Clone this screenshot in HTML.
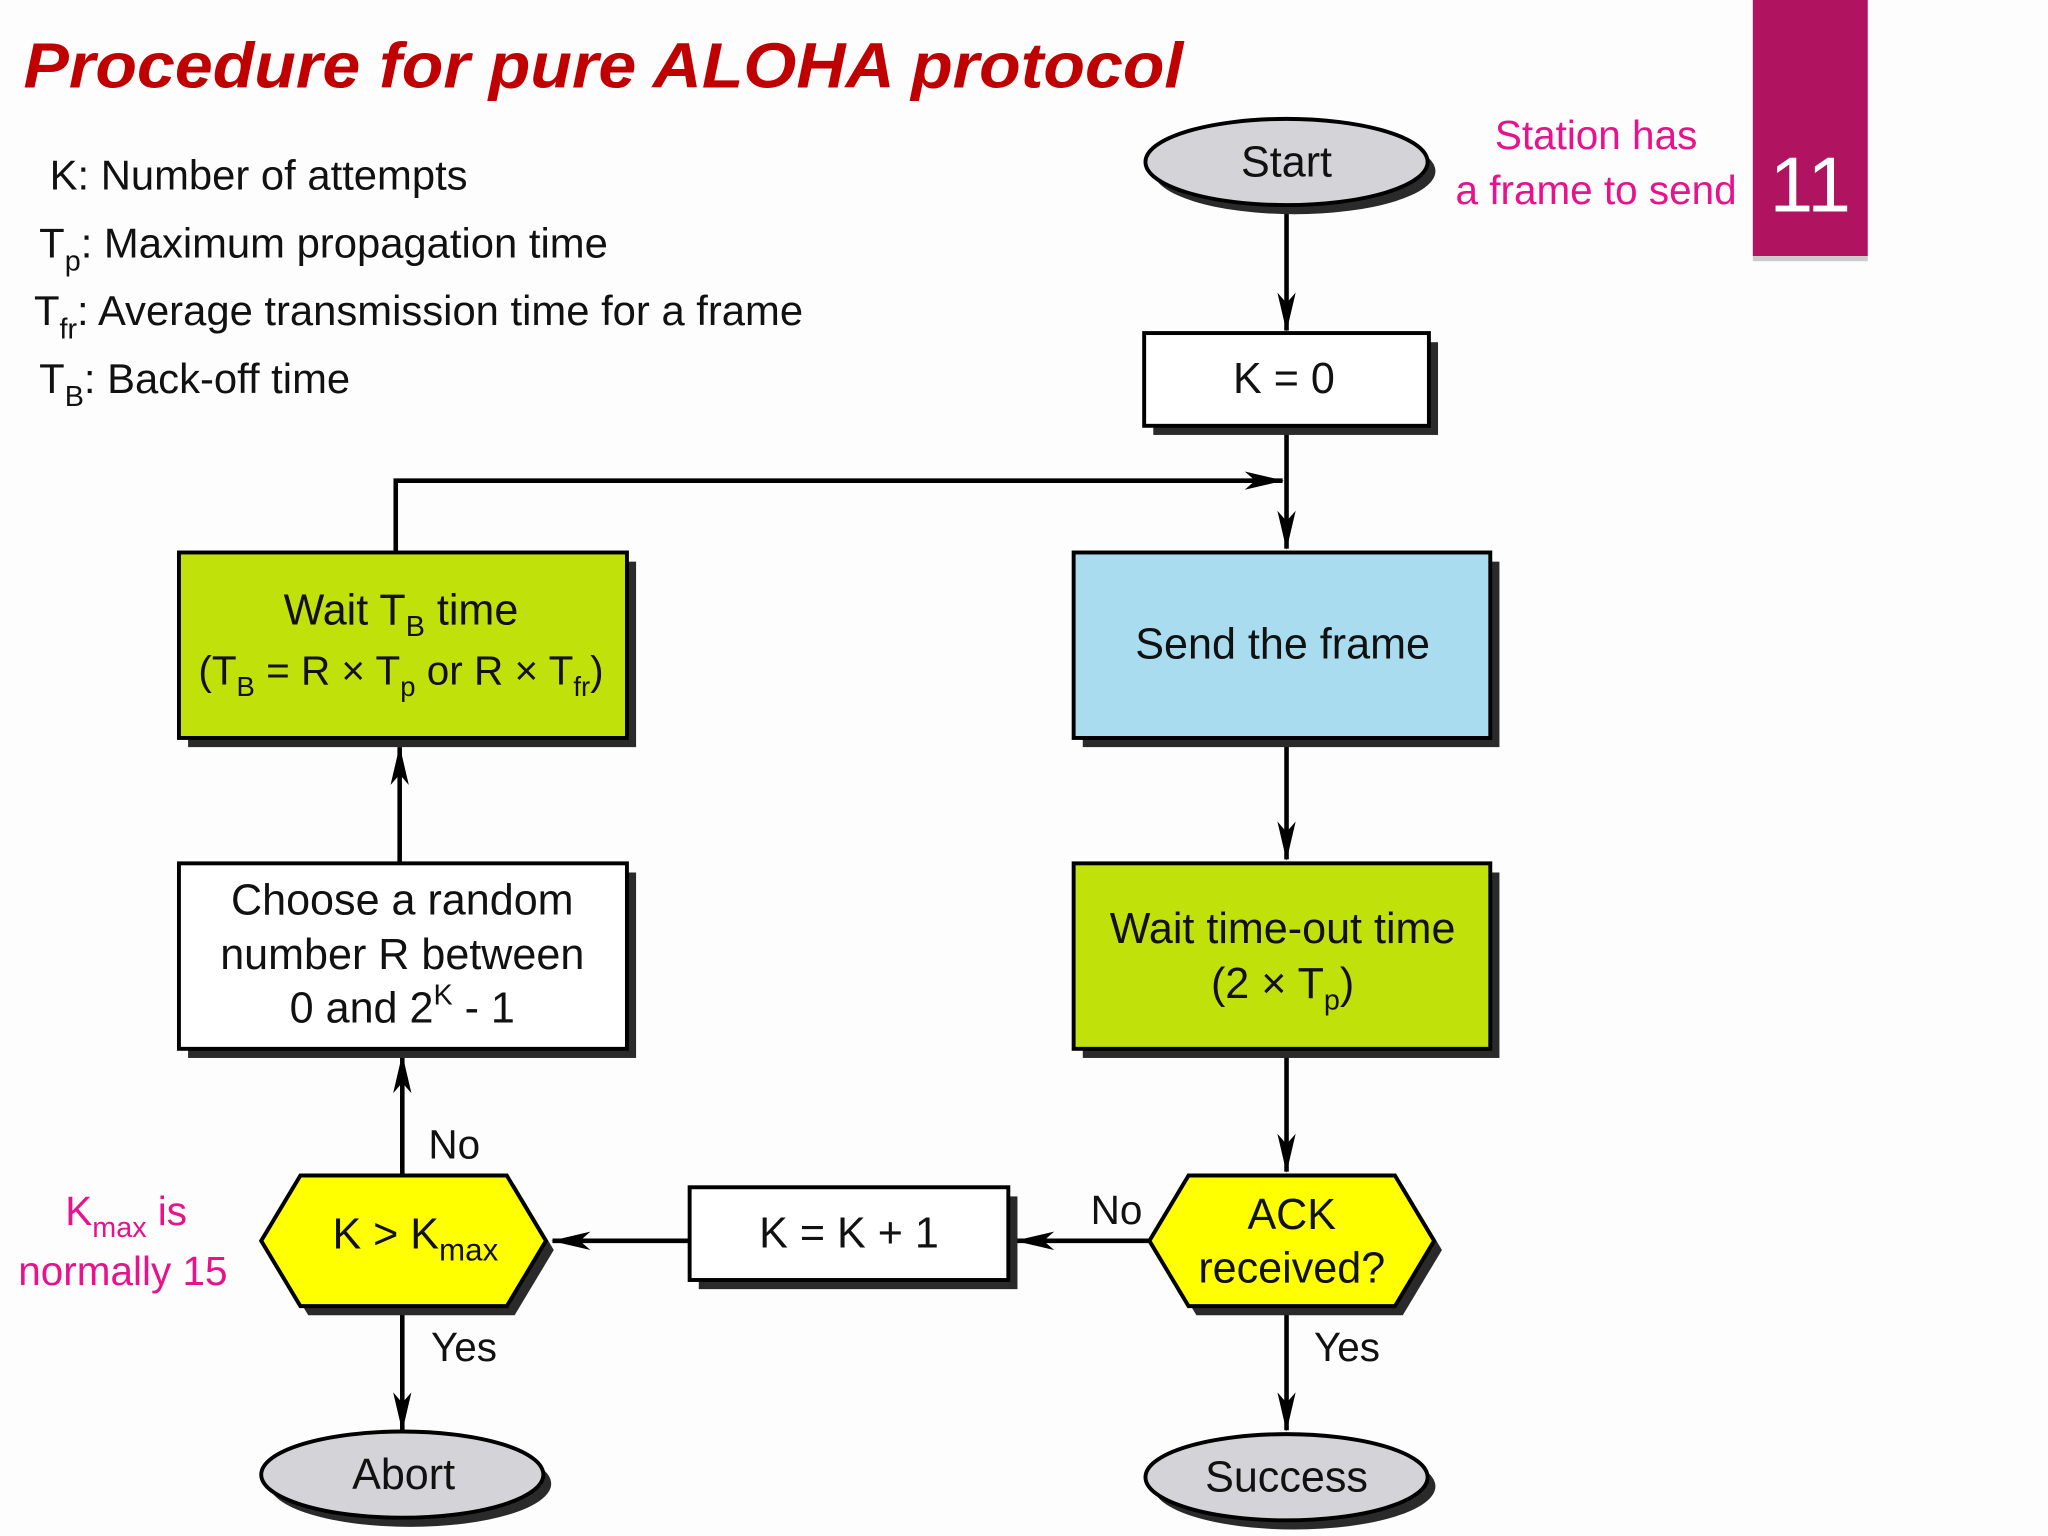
<!DOCTYPE html>
<html><head><meta charset="utf-8"><style>
html,body{margin:0;padding:0;background:#fff;}
svg{display:block;}
text{font-family:"Liberation Sans Narrow","Liberation Sans",sans-serif;}
</style></head><body>
<svg width="2048" height="1536" viewBox="0 0 1568 1176" preserveAspectRatio="none" xmlns="http://www.w3.org/2000/svg">
<defs>
<marker id="ah" viewBox="0 0 30 20" refX="29" refY="10" markerWidth="30" markerHeight="20" markerUnits="userSpaceOnUse" orient="auto">
<path d="M0,3 L30,10 L0,17 L8,10 Z" fill="#000"/>
</marker>
</defs>
<rect width="1568" height="1176" fill="#fdfdfd"/>
<text x="18" y="67" font-family="Liberation Sans" font-weight="bold" font-style="italic" font-size="49" fill="#c00000" textLength="888" lengthAdjust="spacingAndGlyphs" style="font-family:'Liberation Sans',sans-serif">Procedure for pure ALOHA protocol</text>

<g font-size="32" fill="#111">
<text x="38" y="145" textLength="320" lengthAdjust="spacingAndGlyphs">K: Number of attempts</text>
<text x="30" y="197">T<tspan font-size="22" dy="10">p</tspan><tspan dy="-10">: Maximum propagation time</tspan></text>
<text x="26" y="249">T<tspan font-size="22" dy="10">fr</tspan><tspan dy="-10">: Average transmission time for a frame</tspan></text>
<text x="30" y="301">T<tspan font-size="22" dy="10">B</tspan><tspan dy="-10">: Back-off time</tspan></text>
</g>

<rect x="1342" y="0" width="88" height="196" fill="#b0135f"/>
<rect x="1342" y="196" width="88" height="4" fill="#ccc"/>
<text x="1386" y="162" font-size="60" fill="#fff" text-anchor="middle" style="font-family:'Liberation Sans',sans-serif">11</text>
<g font-size="31" fill="#e8128c" text-anchor="middle">
<text x="1222" y="114">Station has</text>
<text x="1222" y="156">a frame to send</text>
</g>

<g stroke="#000" stroke-width="3.5" fill="none">
<line x1="985" y1="158" x2="985" y2="253" marker-end="url(#ah)"/>
<line x1="985" y1="330" x2="985" y2="420" marker-end="url(#ah)"/>
<polyline points="303,422 303,368 982,368" marker-end="url(#ah)"/>
<line x1="985" y1="568" x2="985" y2="658" marker-end="url(#ah)"/>
<line x1="985" y1="806" x2="985" y2="897" marker-end="url(#ah)"/>
<line x1="985" y1="1003" x2="985" y2="1095" marker-end="url(#ah)"/>
<line x1="880" y1="950" x2="778" y2="950" marker-end="url(#ah)"/>
<line x1="528" y1="950" x2="423" y2="950" marker-end="url(#ah)"/>
<line x1="308" y1="900" x2="308" y2="808" marker-end="url(#ah)"/>
<line x1="306" y1="661" x2="306" y2="572" marker-end="url(#ah)"/>
<line x1="308" y1="1003" x2="308" y2="1095" marker-end="url(#ah)"/>
</g>

<g fill="#2a2a2a">
<ellipse cx="991" cy="131" rx="108" ry="33"/>
<rect x="883" y="262" width="218" height="71"/>
<rect x="144" y="430" width="343" height="142"/>
<rect x="829" y="430" width="319" height="142"/>
<rect x="829" y="668" width="319" height="142"/>
<rect x="144" y="668" width="343" height="142"/>
<rect x="535" y="916" width="244" height="71"/>
<polygon points="886,957 916,907 1074,907 1104,957 1074,1007 916,1007"/>
<polygon points="206,957 236,907 394,907 424,957 394,1007 236,1007"/>
<ellipse cx="991" cy="1138" rx="108" ry="33"/>
<ellipse cx="314" cy="1136" rx="108" ry="33"/>
</g>

<g stroke="#000" stroke-width="3">
<ellipse cx="985" cy="124" rx="108" ry="33" fill="#d4d4d8"/>
<rect x="876" y="255" width="218" height="71" fill="#fff"/>
<rect x="137" y="423" width="343" height="142" fill="#c0e20a"/>
<rect x="822" y="423" width="319" height="142" fill="#a8dcee"/>
<rect x="822" y="661" width="319" height="142" fill="#c0e20a"/>
<rect x="137" y="661" width="343" height="142" fill="#fff"/>
<rect x="528" y="909" width="244" height="71" fill="#fff"/>
<polygon points="880,950 910,900 1068,900 1098,950 1068,1000 910,1000" fill="#ffff00"/>
<polygon points="200,950 230,900 388,900 418,950 388,1000 230,1000" fill="#ffff00"/>
<ellipse cx="985" cy="1131" rx="108" ry="33" fill="#d4d4d8"/>
<ellipse cx="308" cy="1129" rx="108" ry="33" fill="#d4d4d8"/>
</g>

<g font-size="33" fill="#111" text-anchor="middle">
<text x="985" y="135">Start</text>
<text x="983" y="301">K = 0</text>
<text x="307" y="478">Wait T<tspan font-size="22" dy="9">B</tspan><tspan dy="-9"> time</tspan></text>
<text x="307" y="524" font-size="31">(T<tspan font-size="21" dy="9">B</tspan><tspan dy="-9"> = R × T</tspan><tspan font-size="21" dy="9">p</tspan><tspan dy="-9"> or R × T</tspan><tspan font-size="21" dy="9">fr</tspan><tspan dy="-9">)</tspan></text>
<text x="982" y="504">Send the frame</text>
<text x="982" y="722">Wait time-out time</text>
<text x="982" y="764">(2 × T<tspan font-size="22" dy="9">p</tspan><tspan dy="-9">)</tspan></text>
<text x="308" y="700">Choose a random</text>
<text x="308" y="742">number R between</text>
<text x="308" y="783">0 and 2<tspan font-size="22" dy="-14">K</tspan><tspan dy="14"> - 1</tspan></text>
<text x="650" y="955">K = K + 1</text>
<text x="989" y="941">ACK</text>
<text x="989" y="982">received?</text>
<text x="318" y="956">K &gt; K<tspan font-size="24" dy="9">max</tspan></text>
<text x="985" y="1142">Success</text>
<text x="309" y="1140">Abort</text>
</g>
<g font-size="31" fill="#111">
<text x="328" y="887">No</text>
<text x="330" y="1042">Yes</text>
<text x="835" y="937">No</text>
<text x="1006" y="1042">Yes</text>
</g>
<g font-size="31" fill="#e8128c">
<text x="50" y="938">K<tspan font-size="22" dy="9">max</tspan><tspan dy="-9"> is</tspan></text>
<text x="14" y="984">normally 15</text>
</g>
</svg>
</body></html>
